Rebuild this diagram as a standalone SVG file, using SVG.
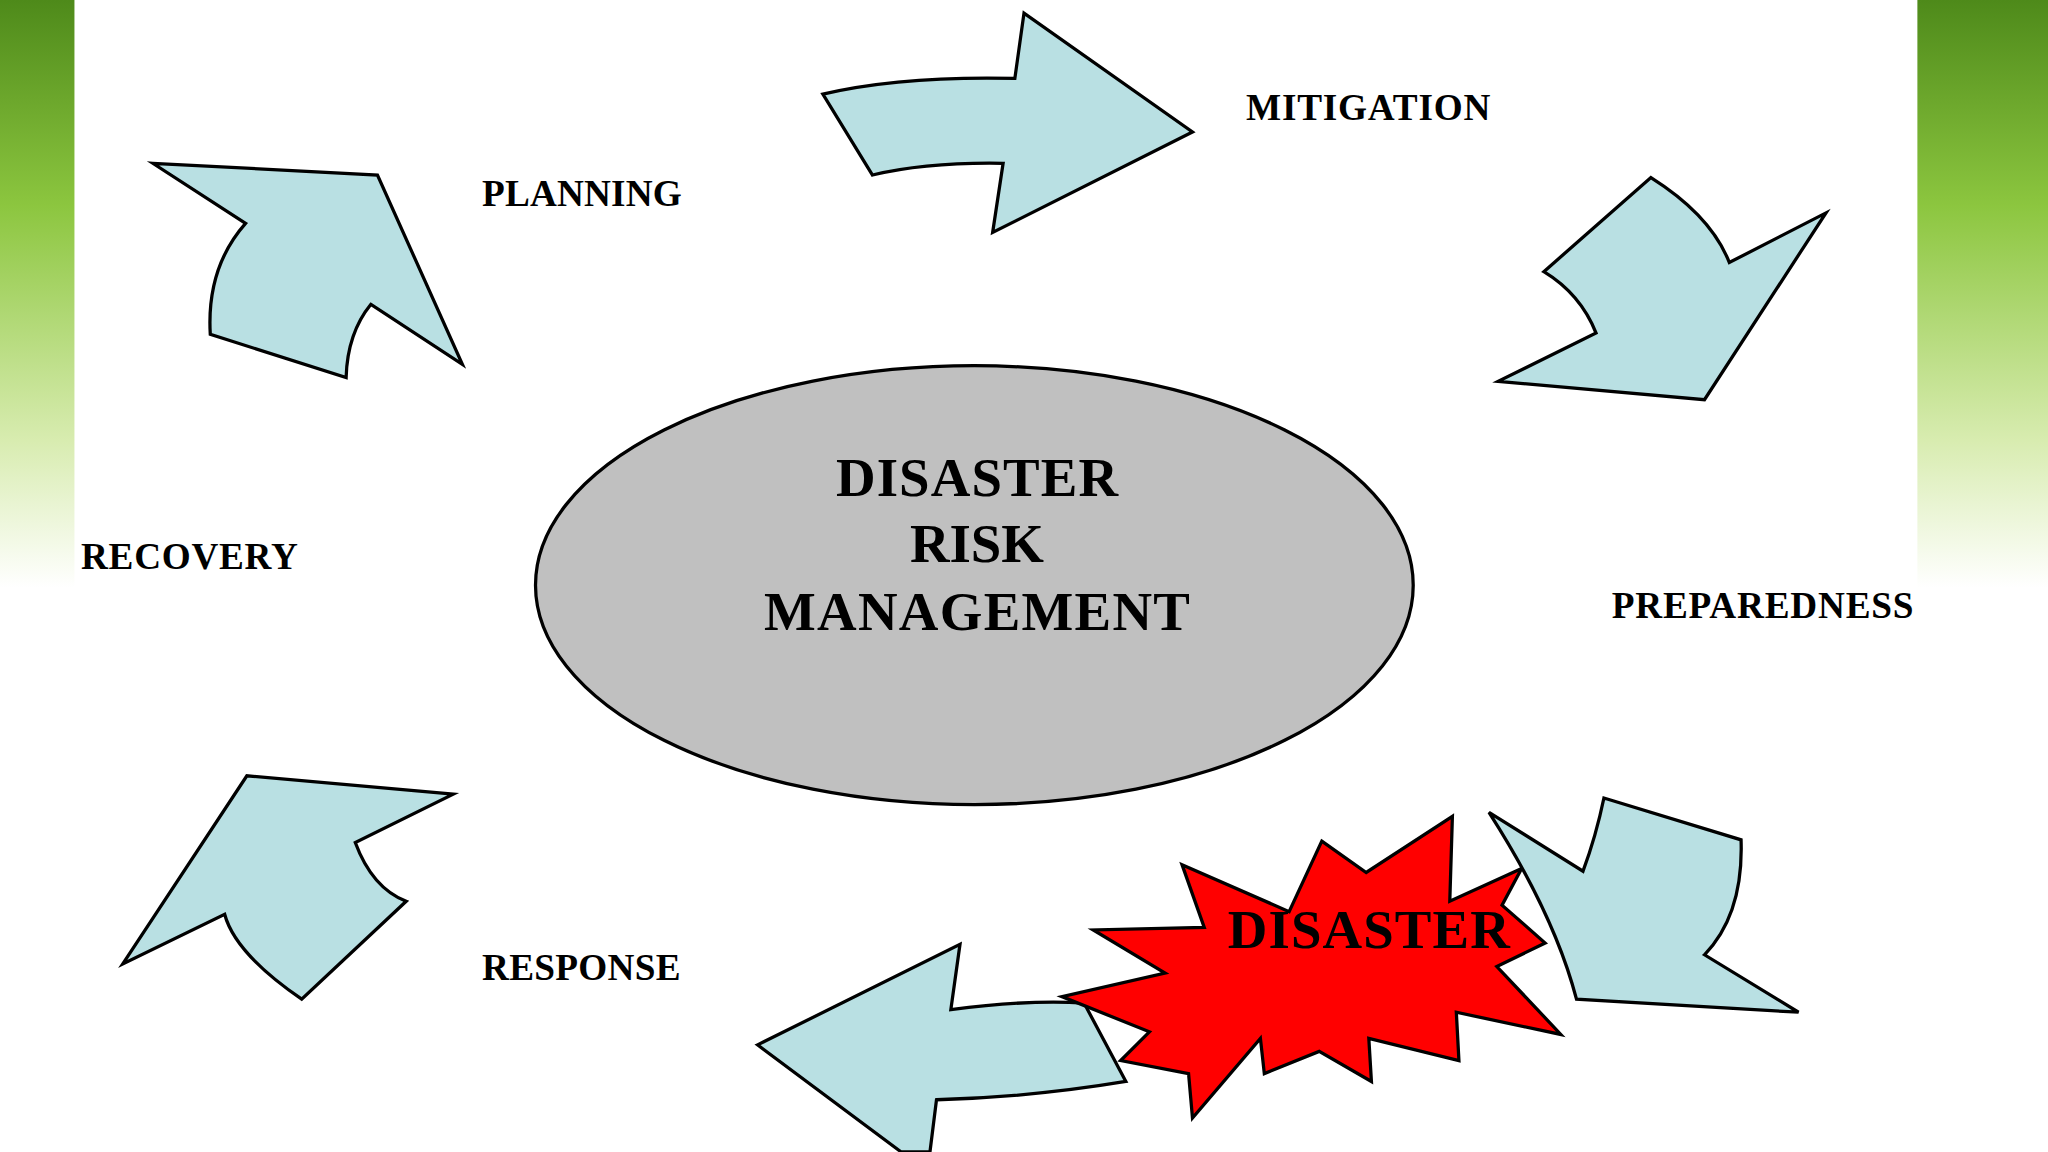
<svg xmlns="http://www.w3.org/2000/svg" width="2048" height="1152" viewBox="0 0 2048 1152">
<defs>
<linearGradient id="gl" x1="0" y1="0" x2="0" y2="1"><stop offset="0" stop-color="#4e8a1a"/><stop offset="0.35" stop-color="#8cc63f"/><stop offset="0.75" stop-color="#d8ecb0"/><stop offset="1" stop-color="#ffffff"/></linearGradient>
<style>
.ar{fill:#b9e0e3;stroke:#000;stroke-width:2.5;stroke-linejoin:miter}
.lb{font-family:"Liberation Serif",serif;font-weight:bold;font-size:28.5px;fill:#000}
.ct{font-family:"Liberation Serif",serif;font-weight:bold;font-size:42px;fill:#000;text-anchor:middle}
</style>
</defs>
<g transform="scale(1.30612)">
<rect width="1568" height="882" fill="#fff"/>
<rect x="0" y="0" width="57" height="450" fill="url(#gl)"/>
<rect x="1468" y="0" width="100" height="450" fill="url(#gl)"/>
<g id="ellipse"><ellipse cx="746" cy="448" rx="336" ry="168" fill="#c0c0c0" stroke="#000" stroke-width="2.5"/>
<text class="ct" x="748" y="380" textLength="216">DISASTER</text><text class="ct" x="748" y="430">RISK</text><text class="ct" x="748" y="482" textLength="326">MANAGEMENT</text></g>
<g id="connectors">
<path class="ar" d="M630,72 Q690,58 777,60 L784,10 L913,101 L760,178 L768,125 Q710,124 668,134 Z"/>
<path class="ar" d="M1182,208 L1264,136 Q1310,165 1324,201 L1398,163 L1305,306 L1147,292 L1222,255 Q1210,225 1182,208 Z"/>
<path class="ar" d="M580,800 L735,723 L728,773 Q790,765 830,768 L862,828 Q790,840 717,842 L712,882 L690,882 Z"/>
<path class="ar" d="M94,738 L189,594 L347,608 L272,645 Q285,680 311,690 L231,765 Q180,730 172,700 Z"/>
<path class="ar" d="M117,125 L289,134 L354,279 L284,233 Q266,255 265,289 L161,256 Q158,205 188,171 Z"/>
</g>
<g id="disaster">
<polygon points="1012,644 1046,668 1112,625 1110,690 1165,665 1150,693 1183,722 1146,740 1195,792 1115,775 1117,812 1048,795 1050,828 1010,805 968,822 965,795 913,856 910,822 858,812 880,790 813,763 892,745 837,712 922,710 905,662 987,698" fill="#ff0000" stroke="#000" stroke-width="2.5"/>
</g>
<path class="ar" d="M1140,622 L1212,667 Q1222,640 1228,611 L1333,643 Q1335,700 1305,731 L1377,775 L1207,765 Q1190,700 1140,622 Z"/>
<text x="1048" y="726" font-family="Liberation Serif,serif" font-weight="bold" font-size="42" text-anchor="middle" textLength="216">DISASTER</text>
<g id="labels">
<text class="lb" x="954" y="92" textLength="187">MITIGATION</text>
<text class="lb" x="369" y="158" textLength="153">PLANNING</text>
<text class="lb" x="62" y="436" textLength="166">RECOVERY</text>
<text class="lb" x="1234" y="473" textLength="231">PREPAREDNESS</text>
<text class="lb" x="369" y="750" textLength="152">RESPONSE</text>
</g>
</g>
</svg>
